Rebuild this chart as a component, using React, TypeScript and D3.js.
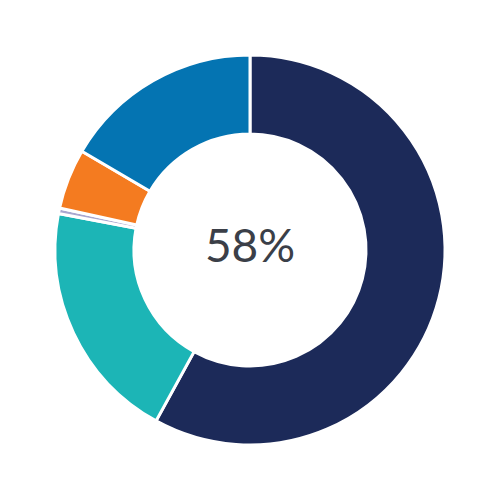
import * as d3 from 'd3'

const categories = ['A', 'B', 'C', 'D', 'E']
const values = [58, 20, 0.45, 5, 16.55]
const colors = ['#1c2a59', '#1cb5b6', '#a9a7cf', '#f47b20', '#0474b2']
const centerLabel = '58%'

const SIZE = 500
const OUTER = 195
const INNER = 116

export default function App() {
  const pie = d3
    .pie<number>()
    .sort(null)
    .value((d) => d)
  const arcs = pie(values)
  const arc = d3.arc<d3.PieArcDatum<number>>().innerRadius(INNER).outerRadius(OUTER)

  return (
    <svg
      width={SIZE}
      height={SIZE}
      style={{ position: 'absolute', left: 0, top: 0, background: '#fff' }}
    >
      <g transform={`translate(${SIZE / 2} ${SIZE / 2})`}>
        {arcs.map((a, i) => (
          <path
            key={categories[i]}
            d={arc(a) || ''}
            fill={colors[i]}
            stroke="#fff"
            strokeWidth={3}
          />
        ))}
        <text
          y={-4}
          textAnchor="middle"
          dy="0.35em"
          fontFamily="Lato, sans-serif"
          fontSize={46}
          fill="#3b3f48"
        >
          {centerLabel}
        </text>
      </g>
    </svg>
  )
}
